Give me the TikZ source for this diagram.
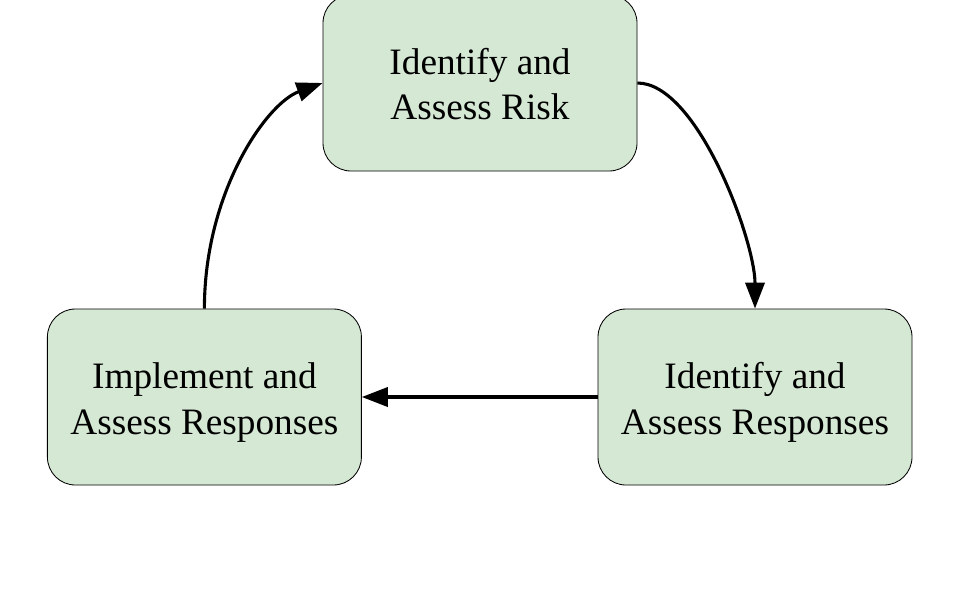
\documentclass[tikz,border=0pt]{standalone}
\usepackage{fontspec}
\setmainfont{Liberation Serif}
\usetikzlibrary{positioning, arrows.meta}
\definecolor{stepgreen}{HTML}{D5E8D4}
\tikzset{
  cyclebox/.style={rectangle, rounded corners=0.7cm, minimum width=7.85cm, minimum height=4.4cm, text centered, align=center, draw=black, line width=0.6pt, fill=stepgreen, font=\fontsize{26.5}{32.3}\selectfont},
  arrow/.style={line width=2.2pt, -{Triangle[length=0.65cm, width=0.48cm]}}
}
% Puntal invisible para bajar el texto dentro de la caja
\newcommand{\alto}[1][0.92cm]{\rule{0pt}{#1}}

\begin{document}
\begin{tikzpicture}

    % Marco de la figura
    \useasboundingbox (0,0) rectangle (24,-15);

    % Cajas del ciclo
    \node[cyclebox] (riesgo) at (12, -2.075) {\alto[0.72cm]Identify and\\Assess Risk};
    \node[cyclebox] (respuestas) at (18.875, -9.925) {\alto Identify and\\Assess Responses};
    \node[cyclebox] (implementar) at (5.11, -9.925) {\alto Implement and\\Assess Responses};

    % Flechas
    \draw[arrow] (riesgo.east) to[out=0, in=90, out distance=1.5cm, in distance=1.7cm] (respuestas.north);
    \draw[arrow] (respuestas.west) -- (implementar.east);
    \draw[arrow] (implementar.north) to[out=90, in=200, out distance=2.9cm, in distance=1.5cm] (riesgo.west);

\end{tikzpicture}
\end{document}
